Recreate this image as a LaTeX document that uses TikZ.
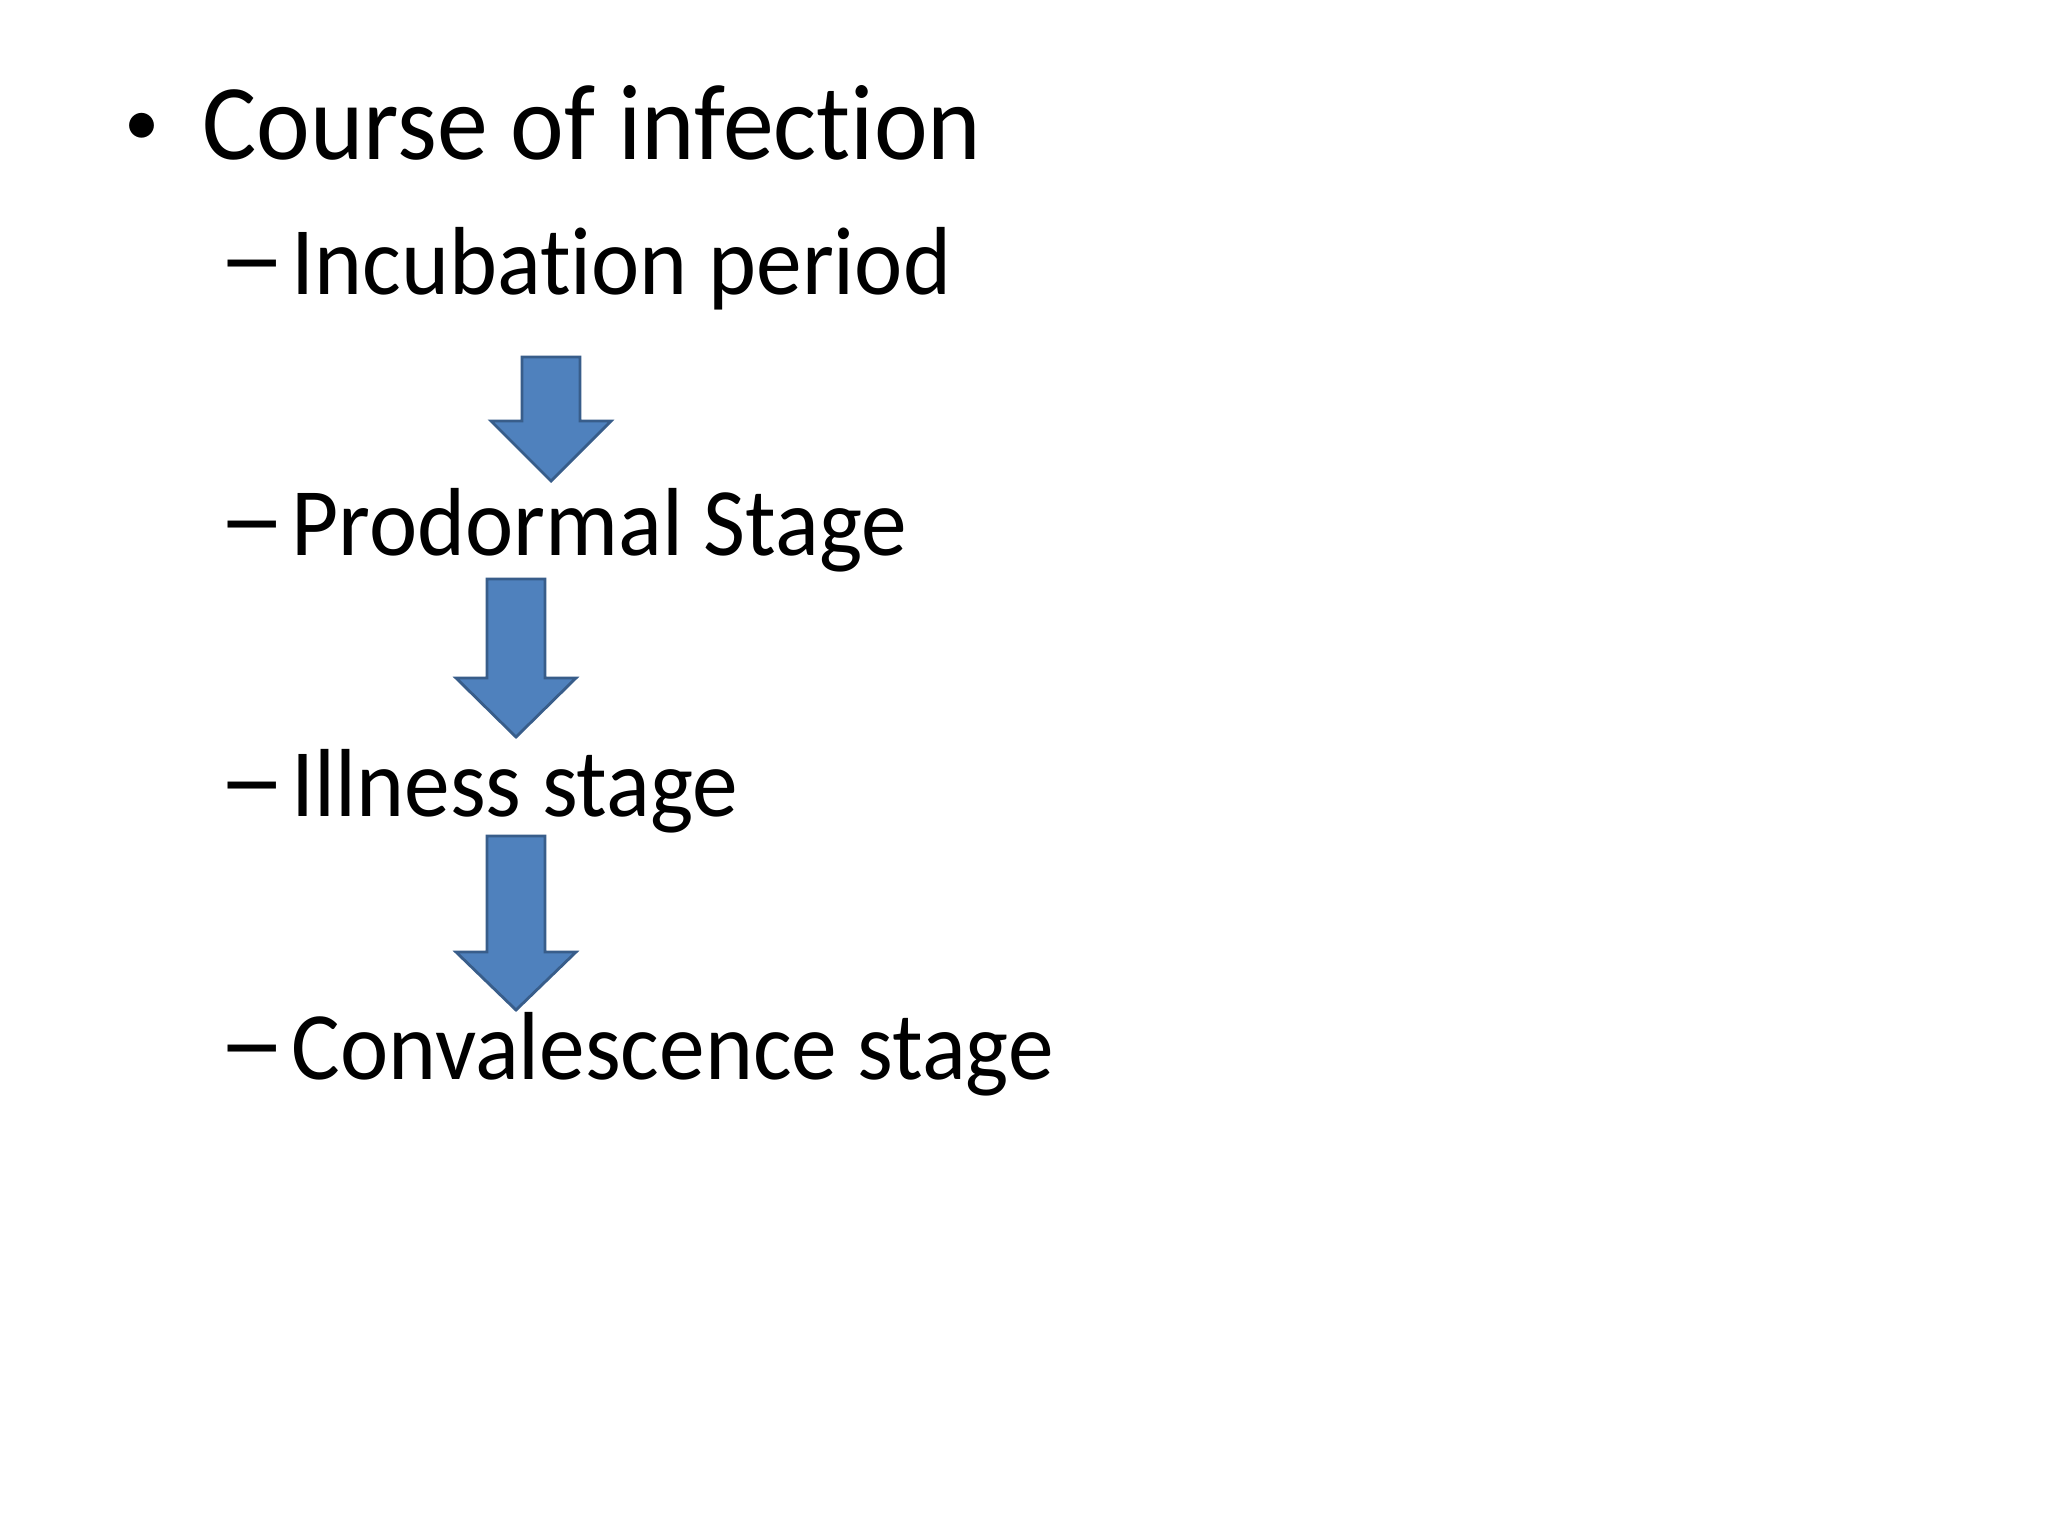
\documentclass[tikz,border=0pt]{standalone}
\usepackage{fontspec}
\setmainfont{Carlito}[Ligatures=NoCommon]
\definecolor{arrowfill}{HTML}{4F81BD}
\definecolor{arrowline}{HTML}{385D8A}
\newcommand{\narrowtext}[1]{\scalebox{0.945}[1]{#1}}
\newcommand{\widedash}{\scalebox{1.4}[1.15]{–}}
\begin{document}
\begin{tikzpicture}[x=0.01cm,y=-0.01cm,
  lvlone/.style={anchor=base west,inner sep=0pt,font=\fontsize{30.6pt}{36pt}\selectfont},
  lvltwo/.style={anchor=base west,inner sep=0pt,font=\fontsize{27.5pt}{33pt}\selectfont},
  bulletmark/.style={anchor=center,inner sep=0pt,font=\fontsize{20pt}{24pt}\selectfont},
  blockarrow/.style={fill=arrowfill,draw=arrowline,line width=0.8pt,line join=miter}]
\useasboundingbox[fill=white] (0,0) rectangle (2048,1536);
\node[bulletmark] (bul) at (142,129) {•};
\node[lvlone] (t0) at (202,159) {\narrowtext{Course of infection}};
\node[lvltwo] (d1) at (218,294) {\widedash};
\node[lvltwo] (t1) at (291,294) {\narrowtext{Incubation period}};
\node[lvltwo] (d2) at (218,555) {\widedash};
\node[lvltwo] (t2) at (291,555) {\narrowtext{Prodormal Stage}};
\node[lvltwo] (d3) at (218,816) {\widedash};
\node[lvltwo] (t3) at (291,816) {\narrowtext{Illness stage}};
\node[lvltwo] (d4) at (218,1079) {\widedash};
\node[lvltwo] (t4) at (291,1079) {\narrowtext{Convalescence stage}};
% block arrows
\draw[blockarrow] (522,357) -- (580,357) -- (580,421) -- (611,421) -- (551,481) -- (491,421) -- (522,421) -- cycle;
\draw[blockarrow] (487,579) -- (545,579) -- (545,678) -- (576,678) -- (516,737) -- (456,678) -- (487,678) -- cycle;
\draw[blockarrow] (487,836) -- (545,836) -- (545,952) -- (576,952) -- (516,1010) -- (456,952) -- (487,952) -- cycle;
\end{tikzpicture}
\end{document}
